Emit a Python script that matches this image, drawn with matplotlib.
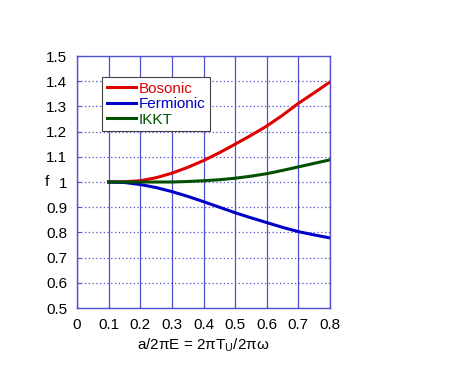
import matplotlib.pyplot as plt

plt.rcParams['font.family'] = ['Liberation Sans', 'DejaVu Sans']

x = [0.1, 0.15, 0.2, 0.25, 0.3, 0.35, 0.4, 0.45, 0.5, 0.55, 0.6, 0.65, 0.7, 0.75, 0.8]
bosonic = [1.0, 1.001, 1.005, 1.017, 1.035, 1.058, 1.085, 1.116, 1.15, 1.185,
           1.222, 1.265, 1.312, 1.354, 1.397]
fermionic = [1.0, 0.998, 0.99, 0.978, 0.962, 0.943, 0.922, 0.9, 0.878, 0.858,
             0.839, 0.82, 0.803, 0.79, 0.778]
ikkt = [1.0, 1.0, 1.0, 1.0, 1.0, 1.002, 1.005, 1.009, 1.015, 1.023,
        1.033, 1.046, 1.06, 1.074, 1.088]

names = ['Bosonic', 'Fermionic', 'IKKT']
colors = ['#e00000', '#0000c8', '#005000']

fig = plt.figure(figsize=(4.74, 3.66), dpi=100)
ax = fig.add_axes([77/474, 1 - 308/366, 253/474, 252/366])

for ys, c, n in zip([bosonic, fermionic, ikkt], colors, names):
    ax.plot(x, ys, color=c, lw=2.2, label=n)

ax.set_xlim(0, 0.8)
ax.set_ylim(0.5, 1.5)
ax.set_xticks([0, 0.1, 0.2, 0.3, 0.4, 0.5, 0.6, 0.7, 0.8])
ax.set_xticklabels(['0', '0.1', '0.2', '0.3', '0.4', '0.5', '0.6', '0.7', '0.8'])
ax.set_yticks([0.5, 0.6, 0.7, 0.8, 0.9, 1.0, 1.1, 1.2, 1.3, 1.4, 1.5])
ax.set_yticklabels(['0.5', '0.6', '0.7', '0.8', '0.9', '1', '1.1', '1.2', '1.3', '1.4', '1.5'])
ax.tick_params(labelsize=11, length=3, color='#5050d0', direction='in', pad=7)
ax.xaxis.grid(True, color='#5050d0', lw=0.9, ls='-')
ax.yaxis.grid(True, color='#5050d0', lw=0.9, ls=(0, (1, 2)))
ax.set_axisbelow(True)
for s in ax.spines.values():
    s.set_color('#5050d0')
    s.set_linewidth(1)

ax.set_ylabel('f', fontsize=11, rotation=0, va='center', ha='center')
ax.yaxis.set_label_coords(-0.118, 0.5)
ax.set_xlabel('a/2πE = 2πT$_\\mathregular{U}$/2πω', fontsize=11, labelpad=3)

leg = ax.legend(loc='upper left', bbox_to_anchor=(25/253, 1 - 21/252), fontsize=11,
                fancybox=False, framealpha=1, edgecolor='#404040',
                handlelength=1.9, handletextpad=0.2, borderpad=0.3,
                labelspacing=0.1, borderaxespad=0)
leg.get_frame().set_linewidth(0.8)
for t, c in zip(leg.get_texts(), colors):
    t.set_color(c)

fig.savefig('out.png', dpi=100)
